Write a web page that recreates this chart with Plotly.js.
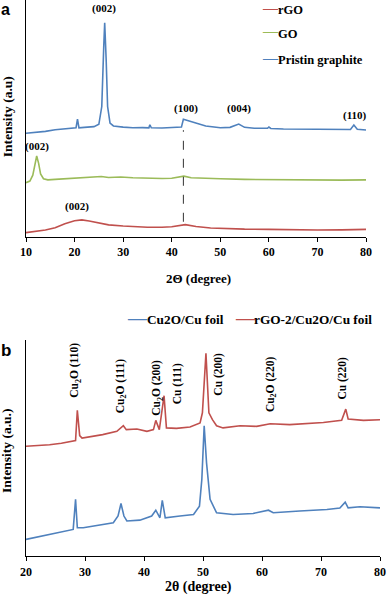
<!DOCTYPE html>
<html>
<head>
<meta charset="utf-8">
<script src="https://cdn.plot.ly/plotly-3.0.1.min.js"></script>
<style>html,body{margin:0;padding:0;background:#fff;}#chart{width:387px;height:596px;}</style>
</head>
<body>
<div id="chart"></div>
<script>
// ---------- Panel a data (2Theta, relative intensity) ----------
const graphiteX = [10,12,14,16,18,20.3,20.6,20.9,22,24,25.0,25.6,26.0,26.2,26.5,26.8,27.3,28,30,32,34,35.3,35.5,35.8,38,40,42.0,42.4,43.5,45,47,50,52,53.8,55,57,59.7,60,60.4,63,66,70,73,76.8,77.5,78.2,80];
const graphiteY = [43.7,44.0,44.5,45.2,45.6,46.0,49.7,46.0,46.2,46.5,47.5,55,80,90.4,75,55,48,46.8,46.3,46.0,46.1,46.0,47.3,46.0,45.9,46.0,46.3,49.6,49.0,47.9,46.8,46.0,46.2,47.6,46.2,45.8,45.8,46.3,45.7,45.5,45.4,45.3,45.3,45.3,47.2,45.4,45.1];

const goX = [10,10.8,11.4,11.8,12.2,12.6,13.0,13.6,14.5,16,18,20,22,24,25.5,27,29.5,32,35,38,40,42.5,44,47,50,55,60,65,70,75,80];
const goY = [22.8,23.5,26,31,34.1,31,26.5,24.5,24.0,24.2,24.4,24.7,24.9,25.1,25.4,25.0,25.2,24.9,24.7,24.6,24.7,25.6,24.9,24.6,24.5,24.2,24.1,23.9,23.8,23.9,24.0];

const rgoX = [10,12,14,16,18,20,21.5,23,25,27,30,33,35,38,40,42.8,45,48,50,55,60,65,70,75,80];
const rgoY = [1.7,2.2,2.8,3.8,5.5,6.7,7.1,6.6,5.7,5.0,4.5,4.1,4.0,4.0,4.2,5.1,4.3,3.7,3.5,3.2,3.1,2.9,2.8,2.9,3.1];

const refLineX = 42.4;
const refLineY = [6.3, 45];

const peakLabelsA = ['(002)','(100)','(004)','(110)','(002)','(002)'];
const peakLabelsAX = [26, 42.9, 53.9, 77.7, 12.3, 20.6];
const peakLabelsAY = [96.6, 54.3, 54.3, 51.4, 37.9, 12.7];

// ---------- Panel b data ----------
const compositeX = [20,22,24,26,27.8,28.4,28.7,29.1,29.5,31,33,35.4,36.5,37.0,38.8,40.5,41.6,42.0,42.6,43.4,43.8,45.5,47.8,49.5,49.9,50.5,51.0,51.6,52.3,53.4,56.3,59.1,61.4,64.7,70.4,73.5,74.2,74.6,77.2,80];
const compositeY = [50.8,51.1,51.5,52.2,52.9,53.4,67.4,55.7,54.6,55.2,56.2,57.7,60.3,58.5,58.8,57.7,58.5,62.8,58.5,74.2,59.3,59.1,59.7,61.6,66.3,93.8,66.3,63.1,60.3,59.3,60.3,60.0,61.2,60.8,61.8,62.8,68.0,63.4,62.8,63.1];

const foilX = [20,24.1,26.9,28.0,28.4,28.7,29.7,32.5,34.8,35.6,36.1,36.6,37.1,39.3,41.3,42.0,42.7,43.1,43.6,46.1,48.4,49.4,49.8,50.2,50.6,51.2,52.3,55.1,58.5,61.1,61.9,66.4,71.0,73.2,74.1,74.6,76.6,80];
const foilY = [7.7,10.0,11.5,12.3,26.2,13.1,13.1,14.2,15.4,18.5,24.3,18.5,16.2,16.6,18.5,21.2,17.7,25.8,17.7,18.5,19.2,23.1,35.4,60.3,43.1,26.2,20.0,19.2,19.7,21.2,20.0,20.8,21.5,22.2,24.9,22.3,22.8,22.3];

const phaseLabels = ['Cu<sub>2</sub>O (110)','Cu<sub>2</sub>O (111)','Cu<sub>2</sub>O (200)','Cu (111)','Cu (200)','Cu<sub>2</sub>O (220)','Cu (220)'];
const phaseLabelX = [28.3, 36.1, 42.2, 45.6, 52.6, 61.5, 73.7];
const phaseLabelY = [86.2, 78.6, 77.9, 79.5, 84.1, 79.5, 82.5];

const seriesNamesA = ['rGO','GO','Pristin graphite'];
const seriesNamesB = ['Cu2O/Cu foil','rGO-2/Cu2O/Cu foil'];

// ---------- styling ----------
const RED = '#c0504d', GREEN = '#9bbb59', BLUE = '#4f81bd';
const SERIF = 'Liberation Serif, Times New Roman, serif';
const SANS = 'Liberation Sans, Arial, sans-serif';

const traces = [
  {x: rgoX, y: rgoY, name: seriesNamesA[0], mode: 'lines', line: {color: RED, width: 1.6}, xaxis: 'x', yaxis: 'y'},
  {x: goX, y: goY, name: seriesNamesA[1], mode: 'lines', line: {color: GREEN, width: 1.6}, xaxis: 'x', yaxis: 'y'},
  {x: graphiteX, y: graphiteY, name: seriesNamesA[2], mode: 'lines', line: {color: BLUE, width: 1.6}, xaxis: 'x', yaxis: 'y'},
  {x: foilX, y: foilY, name: seriesNamesB[0], mode: 'lines', line: {color: BLUE, width: 1.6}, xaxis: 'x2', yaxis: 'y2'},
  {x: compositeX, y: compositeY, name: seriesNamesB[1], mode: 'lines', line: {color: RED, width: 1.6}, xaxis: 'x2', yaxis: 'y2'}
];

const tickFont = {family: SERIF, size: 12, color: '#000', weight: 'bold'};
function xAxis(domain, range, anchor) {
  return {domain: domain, range: range, anchor: anchor, tickvals: [10,20,30,40,50,60,70,80],
    ticks: 'outside', ticklen: 4, tickwidth: 1, tickcolor: '#000', showline: true, linecolor: '#000', linewidth: 1.4,
    showgrid: false, zeroline: false, tickfont: tickFont, fixedrange: true};
}
function yAxis(domain, anchor) {
  return {domain: domain, range: [0, 100], anchor: anchor, showline: true, linecolor: '#000', linewidth: 1.4,
    showticklabels: false, ticks: '', showgrid: false, zeroline: false, fixedrange: true};
}

const annotations = [];
const lblFont = {family: SERIF, size: 11, color: '#000', weight: 'bold'};
peakLabelsA.forEach((t, i) => annotations.push({text: t, x: peakLabelsAX[i], y: peakLabelsAY[i], xref: 'x', yref: 'y',
  showarrow: false, font: lblFont, xanchor: 'center', yanchor: 'middle'}));
phaseLabels.forEach((t, i) => annotations.push({text: t, x: phaseLabelX[i], y: phaseLabelY[i], xref: 'x2', yref: 'y2',
  showarrow: false, textangle: -90, font: {family: SERIF, size: 11.5, color: '#000', weight: 'bold'}, xanchor: 'center', yanchor: 'middle'}));

// legends: coloured dash + label
function legendEntry(name, color, xDash, xText, y, size, dashSize) {
  annotations.push({text: '—', x: xDash, y: y + 0.0045, xref: 'paper', yref: 'paper', xanchor: 'left', yanchor: 'middle',
    showarrow: false, borderpad: 0, font: {family: SERIF, size: dashSize, color: color, weight: 'bold'}});
  annotations.push({text: name, x: xText, y: y, xref: 'paper', yref: 'paper', xanchor: 'left', yanchor: 'middle',
    showarrow: false, borderpad: 0, font: {family: SERIF, size: size, color: '#000', weight: 'bold'}});
}
legendEntry(seriesNamesA[0], RED, 0.6630, 0.7080, 0.982, 12.5, 15);
legendEntry(seriesNamesA[1], GREEN, 0.6630, 0.7080, 0.939, 12.5, 15);
legendEntry(seriesNamesA[2], BLUE, 0.6630, 0.7080, 0.892, 12.5, 15);
legendEntry(seriesNamesB[0], BLUE, 0.2820, 0.3390, 0.4245, 13.3, 19);
legendEntry(seriesNamesB[1], RED, 0.5880, 0.6400, 0.4245, 13.3, 19);

// axis titles
annotations.push({text: '2Θ (degree)', x: 0.487, y: 0.5, xref: 'paper', yref: 'paper', showarrow: false, font: {family: SERIF, size: 13, color: '#000', weight: 'bold'}, xanchor: 'center', yanchor: 'middle'});
annotations.push({text: '2θ (degree)', x: 0.486, y: -0.0558, xref: 'paper', yref: 'paper', showarrow: false, font: {family: SERIF, size: 14, color: '#000', weight: 'bold'}, xanchor: 'center', yanchor: 'middle'});
annotations.push({text: 'Intensity (a.u)', x: -0.0537, y: 0.791, xref: 'paper', yref: 'paper', showarrow: false, textangle: -90, font: {family: SERIF, size: 13.5, color: '#000', weight: 'bold'}, xanchor: 'center', yanchor: 'middle'});
annotations.push({text: 'Intensity (a.u.)', x: -0.0537, y: 0.189, xref: 'paper', yref: 'paper', showarrow: false, textangle: -90, font: {family: SERIF, size: 13.5, color: '#000', weight: 'bold'}, xanchor: 'center', yanchor: 'middle'});
// panel letters
annotations.push({text: 'a', x: -0.058, y: 0.9835, xref: 'paper', yref: 'paper', showarrow: false, borderpad: 0, font: {family: SANS, size: 16, color: '#000', weight: 'bold'}, xanchor: 'center', yanchor: 'middle'});
annotations.push({text: 'b', x: -0.056, y: 0.370, xref: 'paper', yref: 'paper', showarrow: false, font: {family: SANS, size: 17, color: '#000', weight: 'bold'}, xanchor: 'center', yanchor: 'middle'});

const layout = {
  width: 387, height: 596,
  margin: {l: 26, r: 7, t: 0, b: 40, pad: 0},
  paper_bgcolor: '#fff', plot_bgcolor: '#fff',
  showlegend: false,
  xaxis: xAxis([0, 0.9605], [10, 80], 'y'),
  yaxis: yAxis([0.5743, 1], 'x'),
  xaxis2: xAxis([0, 1], [20, 80], 'y2'),
  yaxis2: yAxis([0, 0.3885], 'x2'),
  annotations: annotations,
  shapes: [{type: 'line', xref: 'x', yref: 'y', x0: refLineX, x1: refLineX, y0: refLineY[0], y1: refLineY[1],
    line: {color: '#333', width: 1, dash: 'dash'}}]
};

Plotly.newPlot('chart', traces, layout, {staticPlot: true, displayModeBar: false});
</script>
</body>
</html>
